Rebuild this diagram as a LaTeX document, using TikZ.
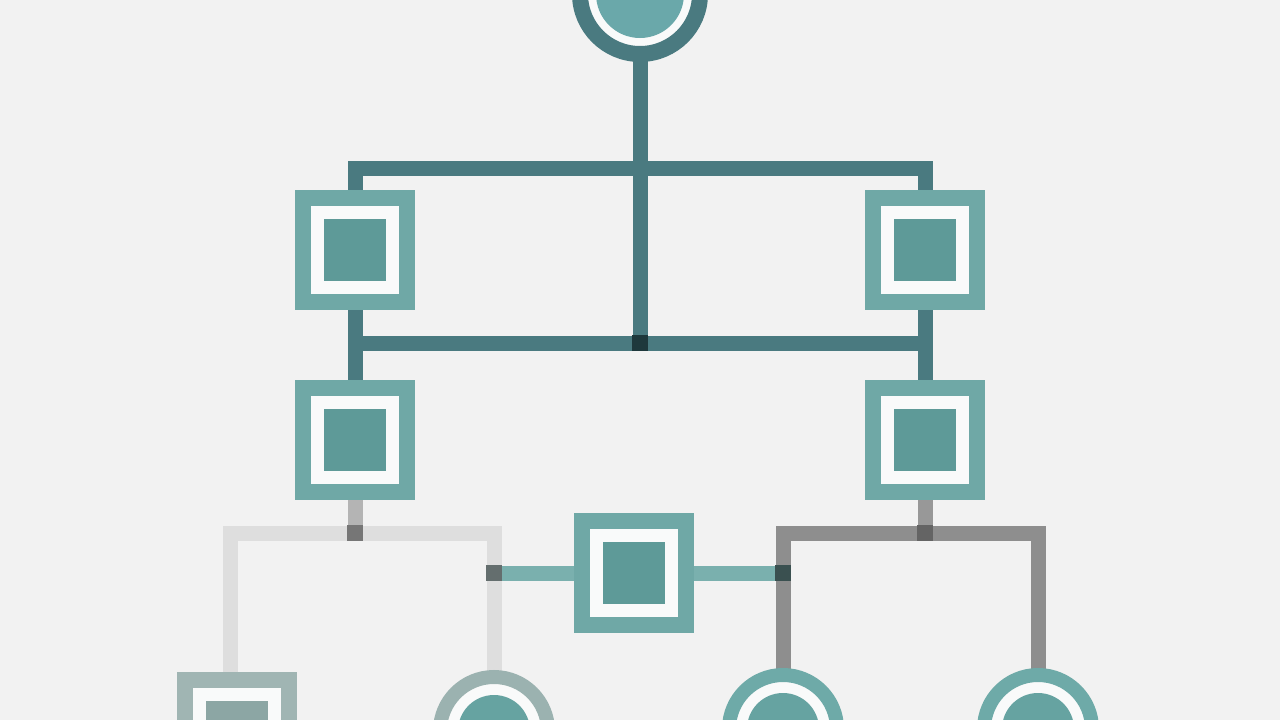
\documentclass[tikz,border=0pt]{standalone}
\usetikzlibrary{calc}
\definecolor{bgc}{RGB}{242,242,242}
\definecolor{darkteal}{RGB}{74,122,128}
\definecolor{sqborder}{RGB}{111,168,166}
\definecolor{sqfill}{RGB}{94,154,152}
\definecolor{gapc}{RGB}{249,250,250}
\definecolor{jdark}{RGB}{30,56,60}
\definecolor{lgrey}{RGB}{222,222,222}
\definecolor{lgstub}{RGB}{180,180,180}
\definecolor{lgjunc}{RGB}{118,118,118}
\definecolor{mgrey}{RGB}{142,142,142}
\definecolor{mgstub}{RGB}{152,152,152}
\definecolor{mgjunc}{RGB}{100,100,100}
\definecolor{tealline}{RGB}{122,176,174}
\definecolor{tjleft}{RGB}{100,110,110}
\definecolor{tjright}{RGB}{58,80,80}
\definecolor{greyborder}{RGB}{160,181,179}
\definecolor{greyfill}{RGB}{140,166,164}
\definecolor{ringgrey}{RGB}{155,178,176}
\definecolor{ringteal}{RGB}{110,170,168}
\definecolor{circfill}{RGB}{102,163,161}
\definecolor{topfill}{RGB}{106,168,170}
\pgfdeclarelayer{bglayer}
\pgfdeclarelayer{lines}
\pgfsetlayers{bglayer,lines,main}
\tikzset{
  sqbox/.style={rectangle, draw=#1, line width=16pt, fill=gapc, minimum size=104pt, inner sep=0pt},
  sqbox/.default=sqborder,
  sqin/.style={rectangle, fill=#1, minimum size=62pt, inner sep=0pt},
  sqin/.default=sqfill,
  bigring/.style={circle, draw=darkteal, line width=16pt, fill=gapc, minimum size=120pt, inner sep=0pt},
  bigin/.style={circle, fill=topfill, minimum size=88pt, inner sep=0pt},
  smallring/.style={circle, draw=#1, line width=14pt, fill=gapc, minimum size=108pt, inner sep=0pt},
  smallring/.default=ringteal,
  smallin/.style={circle, fill=circfill, minimum size=72pt, inner sep=0pt},
  jsq/.style={rectangle, fill=#1, minimum size=16pt, inner sep=0pt},
  conn/.style={draw=#1, line width=15pt, line join=miter, line cap=butt},
}
\begin{document}
\begin{tikzpicture}[x=1pt,y=-1pt]
\useasboundingbox (0,0) rectangle (1280,720);
\begin{pgfonlayer}{bglayer}
  \fill[bgc] (0,0) rectangle (1280,720);
\end{pgfonlayer}

% nodes
\node[bigring] (c0) at (640,-6) {};
\node[bigin] (c0i) at (c0) {};

\node[sqbox] (s1) at (355,250) {};
\node[sqin] (s1i) at (s1) {};
\node[sqbox] (s2) at (925,250) {};
\node[sqin] (s2i) at (s2) {};
\node[sqbox] (s3) at (355,440) {};
\node[sqin] (s3i) at (s3) {};
\node[sqbox] (s4) at (925,440) {};
\node[sqin] (s4i) at (s4) {};
\node[sqbox] (m) at (634,573) {};
\node[sqin] (mi) at (m) {};

\node[sqbox=greyborder] (b5) at (237,732) {};
\node[sqin=greyfill] (b5i) at (b5) {};
\node[smallring=ringgrey] (b6) at (494,731) {};
\node[smallin] (b6i) at (b6) {};
\node[smallring] (b7) at (783,729) {};
\node[smallin] (b7i) at (b7) {};
\node[smallring] (b8) at (1038,729) {};
\node[smallin] (b8i) at (b8) {};

% junctions
\coordinate (top) at (640,168);
\node[jsq=jdark] (jc) at (640,343) {};
\node[jsq=lgjunc] (jl) at (355,533) {};
\node[jsq=mgjunc] (jr) at (925,533) {};
\node[jsq=tjleft] (jml) at (494,573) {};
\node[jsq=tjright] (jmr) at (783,573) {};

% connectors
\begin{pgfonlayer}{lines}
  \draw[conn=darkteal] (s1.center) |- (top) -| (s2.center);
  \draw[conn=darkteal] (c0.center) -- (jc.center);
  \draw[conn=darkteal] (s1 |- jc) -- (s2 |- jc);
  \draw[conn=darkteal] (s1.center) -- (s3.center);
  \draw[conn=darkteal] (s2.center) -- (s4.center);

  \draw[conn=lgstub] (s3.center) -- (jl.center);
  \draw[conn=lgrey] ($(b5.center)+(-7,0)$) |- (jl.center) -| (b6.center);

  \draw[conn=mgstub] (s4.center) -- (jr.center);
  \draw[conn=mgrey] (b7.center) |- (jr.center) -| (b8.center);

  \draw[conn=tealline] (jml.center) -- (m.center) -- (jmr.center);
\end{pgfonlayer}
\end{tikzpicture}
\end{document}
